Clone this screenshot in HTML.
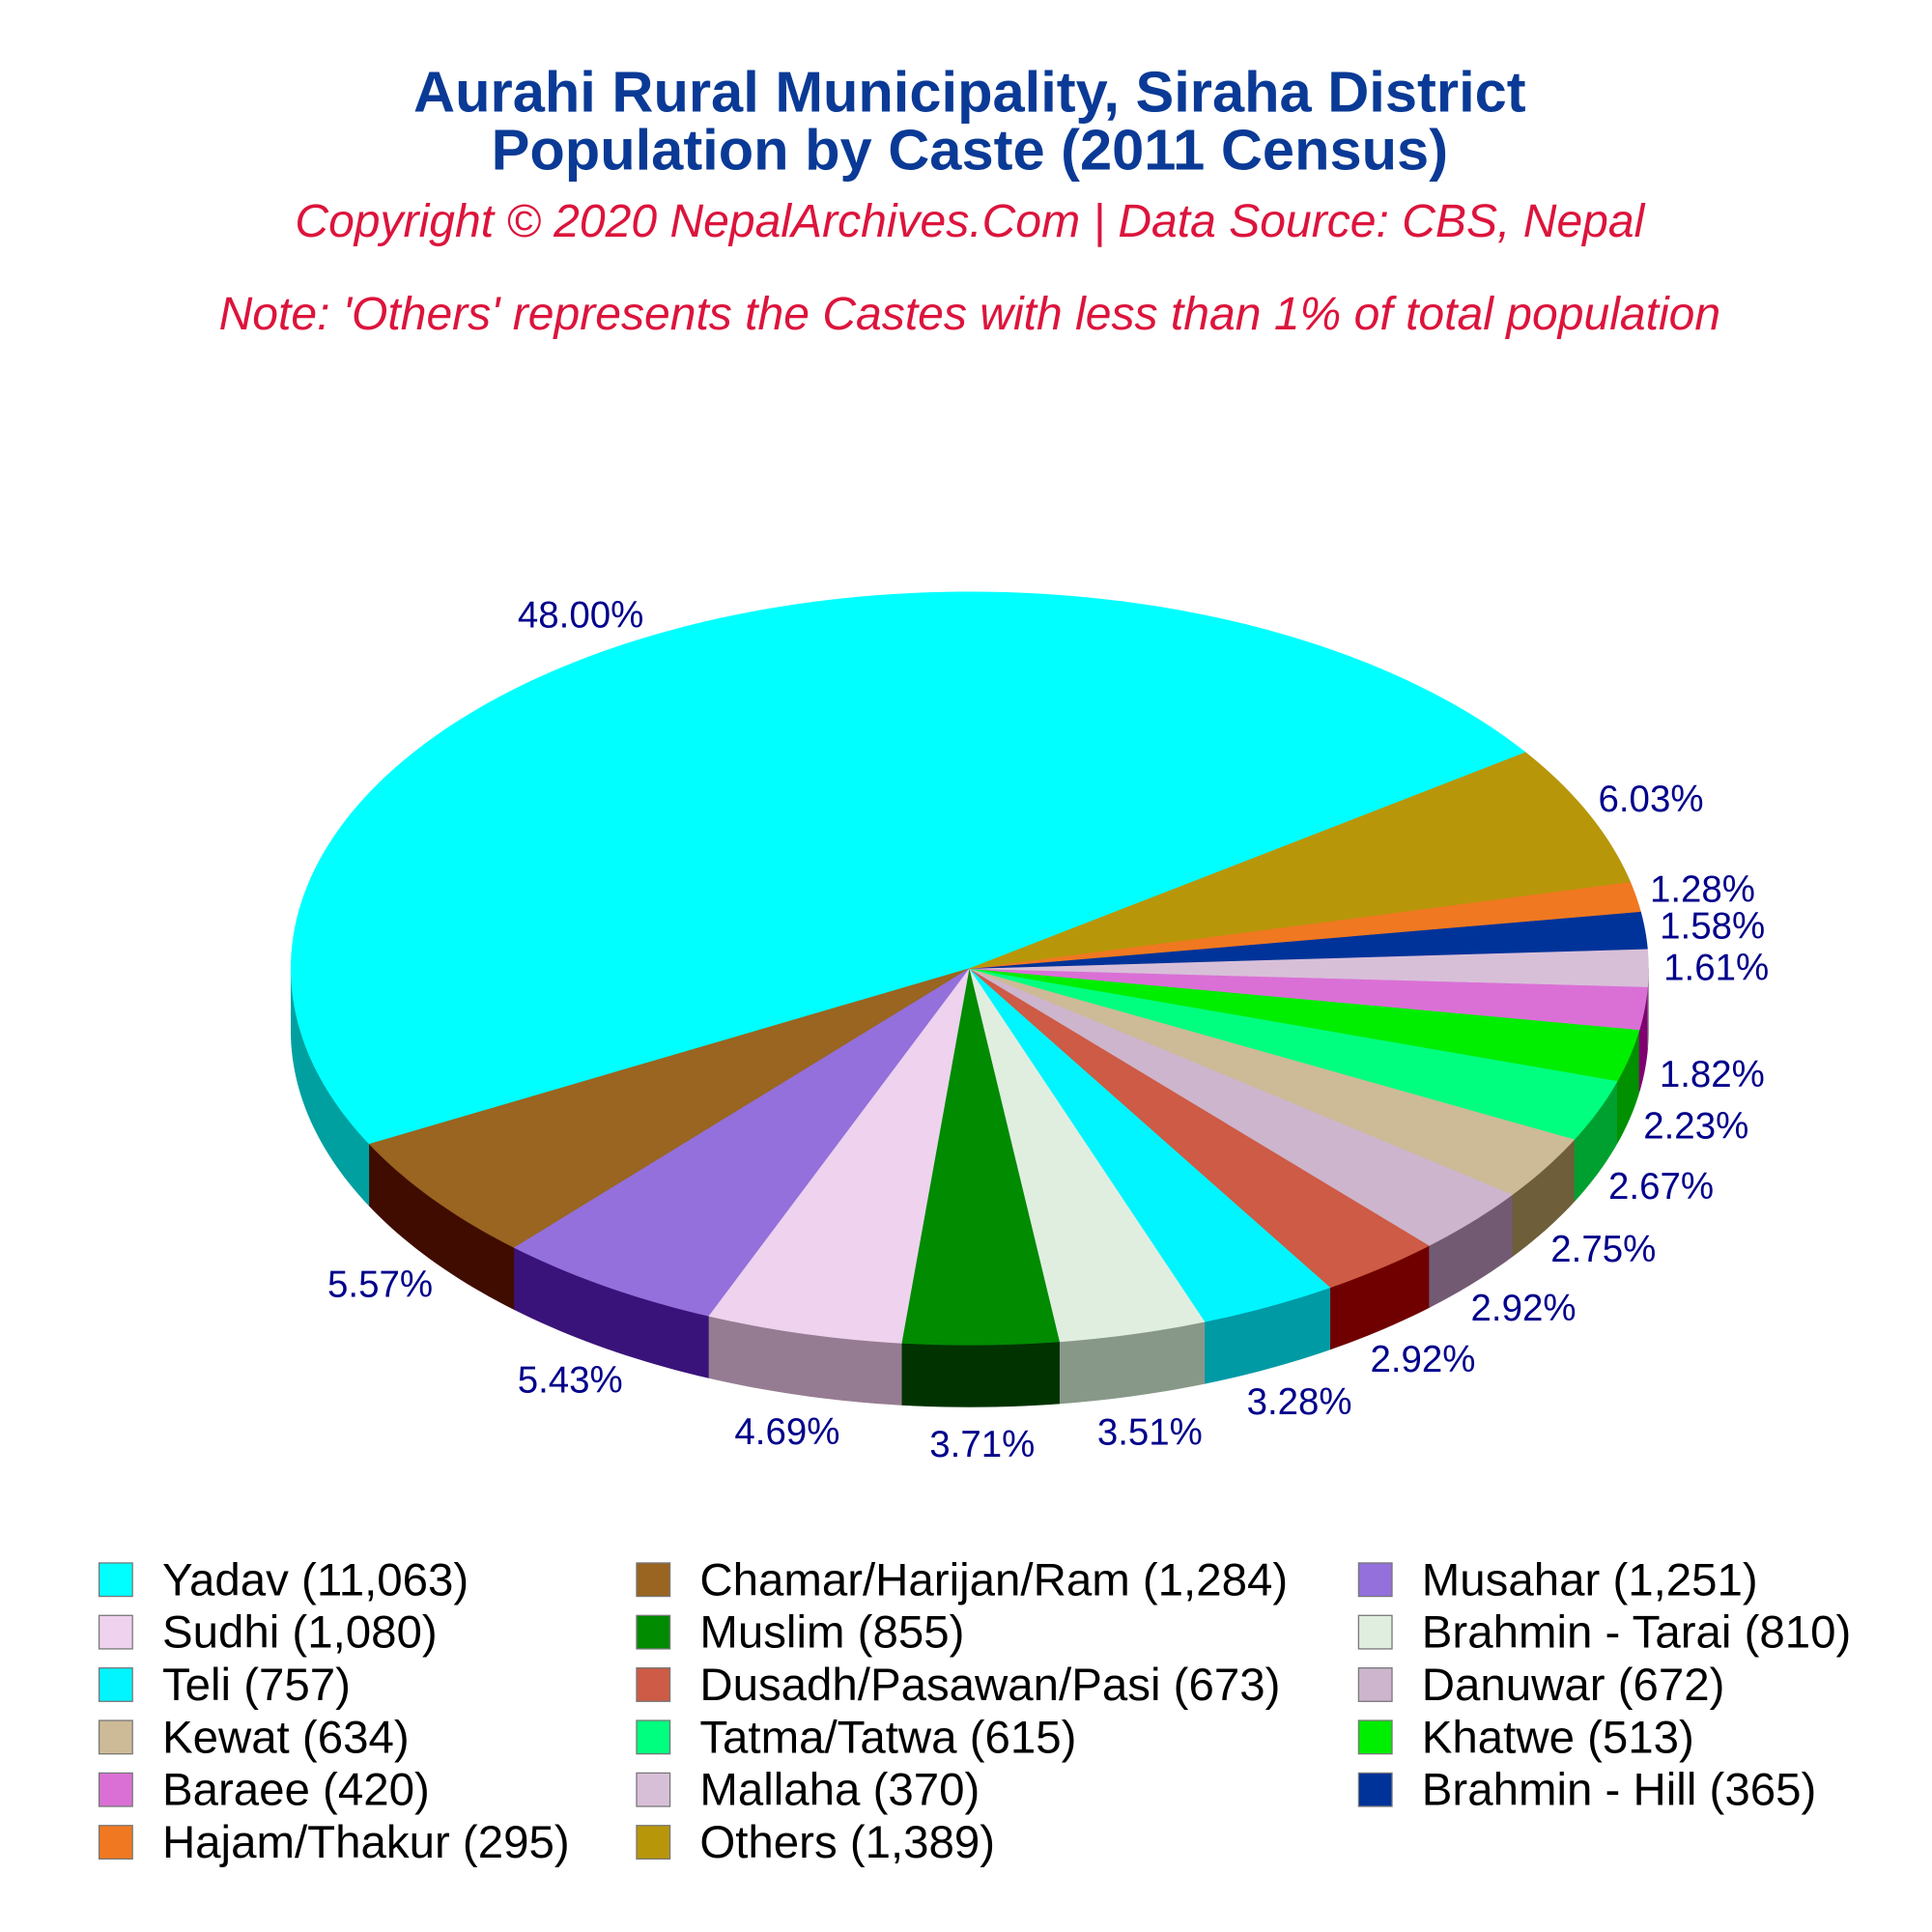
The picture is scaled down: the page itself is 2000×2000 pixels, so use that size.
<!DOCTYPE html>
<html><head><meta charset="utf-8"><style>
html,body{margin:0;padding:0;background:#fff}
svg{display:block}
text{font-family:"Liberation Sans",Arial,sans-serif}
</style></head><body>
<svg id="chart" width="2000" height="2000" viewBox="0 0 1560 1560" xmlns="http://www.w3.org/2000/svg">
<rect width="1560" height="1560" fill="#fff"/>
<text x="783" y="90" text-anchor="middle" font-size="46.5" font-weight="bold" fill="#0a3a96">Aurahi Rural Municipality, Siraha District</text>
<text x="783" y="137" text-anchor="middle" font-size="46.5" font-weight="bold" fill="#0a3a96">Population by Caste (2011 Census)</text>
<text x="783" y="191" text-anchor="middle" font-size="37.5" font-style="italic" fill="#dc143c">Copyright © 2020 NepalArchives.Com | Data Source: CBS, Nepal</text>
<text x="783" y="266" text-anchor="middle" font-size="37.5" font-style="italic" fill="#dc143c">Note: 'Others' represents the Castes with less than 1% of total population</text>
<g id="sides"></g>
<g id="tops"></g>
<g id="labels"></g>
<g id="legend"></g>
</svg>
<script>
const categories = ["Yadav","Chamar/Harijan/Ram","Musahar","Sudhi","Muslim","Brahmin - Tarai","Teli","Dusadh/Pasawan/Pasi","Danuwar","Kewat","Tatma/Tatwa","Khatwe","Baraee","Mallaha","Brahmin - Hill","Hajam/Thakur","Others"];
const populations = [11063,1284,1251,1080,855,810,757,673,672,634,615,513,420,370,365,295,1389];
const topColors = ["#00ffff","#996520","#9370db","#eed2ee","#008b00","#e0eee0","#00f5ff","#cd5b45","#cdb5cd","#cdba96","#00ff7f","#00ee00","#da70d6","#d8bfd8","#003399","#f07820","#b8960a"];
const sideColors = ["#00a0a0","#400c00","#3a137a","#967c92","#003300","#889888","#009aa5","#700000","#735a73","#6e5e3a","#00a030","#009000","#800070","#806080","#001a66","#904010","#6a5500"];

const NS="http://www.w3.org/2000/svg";
const cx=783, cy=782, rx=548, ry=304, depth=50, startDeg=-35;
const total=populations.reduce((a,b)=>a+b,0);
function px(a){return cx+rx*Math.cos(a*Math.PI/180);}
function py(a){return cy+ry*Math.sin(a*Math.PI/180);}
function arcPts(a0,a1,dy){const pts=[];const n=Math.max(4,Math.ceil(Math.abs(a1-a0)));for(let i=0;i<=n;i++){const a=a0+(a1-a0)*i/n;pts.push([px(a),py(a)+dy]);}return pts;}
function mk(tag,attrs,parent){const e=document.createElementNS(NS,tag);for(const k in attrs)e.setAttribute(k,attrs[k]);parent.appendChild(e);return e;}
const sides=document.getElementById('sides'),tops=document.getElementById('tops'),labels=document.getElementById('labels'),legend=document.getElementById('legend');
let cum=0;
populations.forEach((v,i)=>{
  const a0=startDeg-cum/total*360, a1=startDeg-(cum+v)/total*360; cum+=v;
  for(let k=-2;k<=1;k++){
    const lo=Math.max(a1,k*360), hi=Math.min(a0,k*360+180);
    if(hi>lo){
      const top=arcPts(lo,hi,0), bot=arcPts(hi,lo,depth);
      const s=mk('polygon',{points:top.concat(bot).map(p=>p.join(',')).join(' '),fill:sideColors[i],stroke:sideColors[i],'stroke-width':'0.5'},sides);
      
      
    }
  }
  const pts=[[cx,cy]].concat(arcPts(a0,a1,0));
  const p=mk('polygon',{points:pts.map(q=>q.join(',')).join(' '),fill:topColors[i],stroke:topColors[i],'stroke-width':'0.5'},tops);
  
  
  const m=(a0+a1)/2, s=Math.sin(m*Math.PI/180);
  const lx=cx+1.1*rx*Math.cos(m*Math.PI/180), ly=cy+1.1*ry*s+(s>0?depth:0);
  const t=mk('text',{x:lx,y:ly+10,'text-anchor':'middle','font-size':'30','fill':'#00008b'},labels);
  t.textContent=(v/total*100).toFixed(2)+'%';
  
  
  const col=i%3,row=Math.floor(i/3);
  const bx=[80,514,1097][col], by=1262+row*42.4;
  const g=mk('g',{},legend);
  
  
  mk('rect',{x:bx,y:by,width:27,height:27,fill:topColors[i],stroke:'#777','stroke-width':'1'},g);
  const lt=mk('text',{x:bx+51,y:by+26,'font-size':'37','fill':'#000'},g);
  lt.textContent=categories[i]+' ('+v.toLocaleString('en-US')+')';
});
</script>
</body></html>
